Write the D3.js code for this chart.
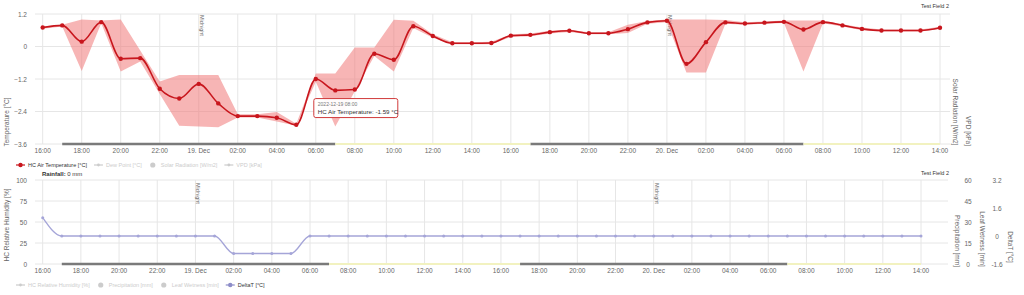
<!DOCTYPE html>
<html>
<head>
<meta charset="utf-8">
<script src="https://cdn.jsdelivr.net/npm/d3@7"></script>
<style>
  body { margin: 0; background: #fff; }
  svg { display: block; font-family: "Liberation Sans", Arial, sans-serif; }
  .grid line { stroke: #e6e6e6; stroke-width: 1; }
  .tick-label { fill: #666; font-size: 6.5px; }
  .axis-title { fill: #666; font-size: 6.5px; }
</style>
</head>
<body>
<div id="chart"></div>
<script>
var svgWidth = 1024;
var svgHeight = 295;

// hourly readings, 18 Dec 16:00 -> 20 Dec 14:00
var startTime = new Date(2022, 11, 18, 16);
var endTime = new Date(2022, 11, 20, 14);
var times = d3.timeHour.range(startTime, d3.timeHour.offset(endTime, 1));

var airTemp = [0.70, 0.78, 0.18, 0.90, -0.45, -0.43, -1.56, -1.92,
  -1.38, -2.10, -2.57, -2.57, -2.63, -2.89, -1.20, -1.62, -1.59, -0.27, -0.49, 0.75,
  0.39, 0.12, 0.12, 0.13, 0.40, 0.43, 0.53, 0.58, 0.49, 0.49, 0.64, 0.89,
  0.95, -0.64, 0.16, 0.89, 0.85, 0.88, 0.91, 0.63, 0.90, 0.78, 0.65, 0.59,
  0.59, 0.59, 0.69];
var airTempMin = [0.66, 0.74, -0.90, 0.86, -0.92, -0.55, -1.75, -2.93,
  -2.95, -2.98, -2.62, -2.62, -2.77, -2.93, -1.30, -2.95, -1.65, -0.35, -0.92, 0.68,
  0.32, 0.08, 0.08, 0.08, 0.35, 0.38, 0.48, 0.54, 0.45, 0.45, 0.50, 0.84,
  0.90, -0.96, -0.96, 0.84, 0.80, 0.84, 0.87, -0.92, 0.86, 0.74, 0.60, 0.55,
  0.55, 0.55, 0.65];
var airTempMax = [0.74, 0.80, 1.00, 0.96, 1.00, -0.15, -1.29, -1.05,
  -1.05, -1.05, -2.50, -2.50, -2.42, -2.85, -1.00, -1.00, -0.04, -0.04, 0.99, 0.95,
  0.45, 0.16, 0.16, 0.18, 0.45, 0.48, 0.58, 0.62, 0.53, 0.53, 0.80, 0.94,
  1.00, 1.00, 1.00, 0.98, 0.90, 0.92, 0.96, 0.96, 0.96, 0.82, 0.70, 0.63,
  0.63, 0.63, 0.73];
var deltaT = [1.05, 0, 0, 0, 0, 0, 0, 0,
  0, 0, -1.0, -1.0, -1.0, -1.0, 0, 0, 0, 0, 0, 0,
  0, 0, 0, 0, 0, 0, 0, 0, 0, 0, 0, 0,
  0, 0, 0, 0, 0, 0, 0, 0, 0, 0, 0, 0,
  0, 0, 0];

// night / day bands
var nights = [[new Date(2022, 11, 18, 17), new Date(2022, 11, 19, 7)],
  [new Date(2022, 11, 19, 17), new Date(2022, 11, 20, 7)]];
var days = [[new Date(2022, 11, 19, 7), new Date(2022, 11, 19, 17)],
  [new Date(2022, 11, 20, 7), new Date(2022, 11, 20, 14)]];
var midnights = [new Date(2022, 11, 19, 0), new Date(2022, 11, 20, 0)];

var tempTicks = [-3.6, -2.4, -1.2, 0, 1.2];
var humTicks = [0, 25, 50, 75, 100];
var precipTicks = [0, 15, 30, 45, 60];
var deltaTicks = [-1.6, 0, 1.6, 3.2];

var topLegend = ['HC Air Temperature [°C]', 'Dew Point [°C]', 'Solar Radiation [W/m2]', 'VPD [kPa]'];
var bottomLegend = ['HC Relative Humidity [%]', 'Precipitation [mm]', 'Leaf Wetness [min]', 'DeltaT [°C]'];

var red = '#c8161d';
var lavender = '#a5a5d8';

var svg = d3.select('#chart').append('svg')
  .attr('width', svgWidth)
  .attr('height', svgHeight);

var fmtTick = function(d) {
  return d.getHours() === 0 ? d3.timeFormat('%-d. %b')(d) : d3.timeFormat('%H:%M')(d);
};

// draws grid, time axis, night bars and midnight lines for one panel
function drawFrame(g, x, topY, bottomY, gridLeft, gridRight, yTicks, yScale, midY) {
  var grid = g.append('g').classed('grid', true);
  grid.selectAll('.h').data(yTicks).enter().append('line')
    .attr('x1', gridLeft).attr('x2', gridRight)
    .attr('y1', d => yScale(d)).attr('y2', d => yScale(d));
  grid.selectAll('.v').data(x.ticks(d3.timeHour.every(2))).enter().append('line')
    .attr('x1', d => x(d)).attr('x2', d => x(d))
    .attr('y1', topY).attr('y2', bottomY);

  g.selectAll('.tl').data(x.ticks(d3.timeHour.every(2))).enter().append('text')
    .attr('class', 'tick-label')
    .attr('x', d => x(d)).attr('y', bottomY + 9)
    .attr('text-anchor', 'middle')
    .text(fmtTick);

  g.selectAll('.night').data(nights).enter().append('line')
    .attr('x1', d => x(d[0])).attr('x2', d => x(d[1]))
    .attr('y1', bottomY).attr('y2', bottomY)
    .attr('stroke', '#7a7a7a').attr('stroke-width', 2.5);
  g.selectAll('.day').data(days).enter().append('line')
    .attr('x1', d => x(d[0])).attr('x2', d => x(d[1]))
    .attr('y1', bottomY).attr('y2', bottomY)
    .attr('stroke', '#f2f2c0').attr('stroke-width', 2);

  g.selectAll('.mid').data(midnights).enter().append('text')
    .attr('transform', d => `translate(${x(d) + 1},${midY}) rotate(90)`)
    .attr('font-size', '5.5px').attr('fill', '#666')
    .text('Midnight');
}

function vTitle(x, y, txt, angle) {
  svg.append('text').attr('class', 'axis-title')
    .attr('transform', `translate(${x},${y}) rotate(${angle})`)
    .attr('text-anchor', 'middle')
    .text(txt);
}

// legend row; circle-only symbols for the scatter/column-like series
function legend(y, items, activeIdx, color, circleIdx) {
  var lx = 16;
  items.forEach(function(name, i) {
    var active = i === activeIdx;
    var c = active ? color : '#cccccc';
    if (circleIdx.indexOf(i) >= 0) {
      svg.append('circle').attr('cx', lx + 4).attr('cy', y - 2).attr('r', 2.6).attr('fill', c);
    } else {
      svg.append('line').attr('x1', lx).attr('x2', lx + 9).attr('y1', y - 2).attr('y2', y - 2)
        .attr('stroke', c).attr('stroke-width', 1.2);
      svg.append('circle').attr('cx', lx + 4.5).attr('cy', y - 2).attr('r', active ? 2.2 : 1.4).attr('fill', c);
    }
    var t = svg.append('text').attr('x', lx + 12).attr('y', y)
      .attr('font-size', '5.5px')
      .attr('fill', active ? '#333' : '#cccccc')
      .text(name);
    lx += 12 + t.node().getComputedTextLength() + 7;
  });
}

// ---------- top panel: air temperature ----------
var xTop = d3.scaleTime().domain([startTime, endTime]).range([42.7, 940]);
var yTemp = d3.scaleLinear().domain([-3.6, 1.2]).range([144, 14]);
var topG = svg.append('g');

drawFrame(topG, xTop, 14, 144, 35, 950, tempTicks, yTemp, 15);

topG.selectAll('.yl').data(tempTicks).enter().append('text')
  .attr('class', 'tick-label')
  .attr('x', 27).attr('y', d => yTemp(d) + 2.5)
  .attr('text-anchor', 'end')
  .text(d => d === 0 ? '0' : d3.format('.1f')(d));

var tempData = times.map((t, i) => ({t: t, v: airTemp[i], lo: airTempMin[i], hi: airTempMax[i]}));

topG.append('path').datum(tempData)
  .attr('fill', '#f07878').attr('fill-opacity', 0.55)
  .attr('d', d3.area().x(d => xTop(d.t)).y0(d => yTemp(d.lo)).y1(d => yTemp(d.hi)));

topG.append('path').datum(tempData)
  .attr('fill', 'none').attr('stroke', red).attr('stroke-width', 1.6)
  .attr('d', d3.line().curve(d3.curveMonotoneX).x(d => xTop(d.t)).y(d => yTemp(d.v)));

topG.selectAll('.pt').data(tempData).enter().append('circle')
  .attr('cx', d => xTop(d.t)).attr('cy', d => yTemp(d.v)).attr('r', 2.2)
  .attr('fill', red);

// tooltip at 19 Dec 08:00
var tipPoint = tempData[16];
var tipX = xTop(tipPoint.t) - 41, tipY = yTemp(tipPoint.v) + 9;
topG.append('rect').attr('x', tipX).attr('y', tipY).attr('width', 84).attr('height', 19)
  .attr('rx', 2).attr('fill', '#fff').attr('fill-opacity', 0.95)
  .attr('stroke', '#d03a3a').attr('stroke-width', 1);
topG.append('text').attr('x', tipX + 4).attr('y', tipY + 7)
  .attr('font-size', '5px').attr('fill', '#777').text('2022-12-19 08:00');
topG.append('text').attr('x', tipX + 4).attr('y', tipY + 15)
  .attr('font-size', '6.2px').attr('fill', '#333')
  .text('HC Air Temperature:  ' + tipPoint.v.toFixed(2) + ' °C');

svg.append('text').attr('x', 949).attr('y', 8).attr('text-anchor', 'end')
  .attr('font-size', '5.5px').attr('fill', '#333').text('Test Field 2');

vTitle(9, 122, 'Temperature [°C]', -90);
vTitle(953, 112, 'Solar Radiation [W/m2]', 90);
vTitle(966, 131, 'VPD [kPa]', 90);

legend(167, topLegend, 0, red, [2]);

svg.append('text').attr('x', 42).attr('y', 176).attr('font-size', '6px').attr('fill', '#333')
  .html('<tspan font-weight="bold">Rainfall:</tspan> 0 mm');

// ---------- bottom panel: DeltaT ----------
var xBot = d3.scaleTime().domain([startTime, endTime]).range([42.7, 921]);
var yHum = d3.scaleLinear().domain([0, 100]).range([264, 180]);
var yPrecip = d3.scaleLinear().domain([0, 60]).range([264, 180]);
var yDelta = d3.scaleLinear().domain([-1.6, 3.2]).range([264, 180]);
var botG = svg.append('g');

drawFrame(botG, xBot, 180, 264, 35, 948, humTicks, yHum, 183);

botG.selectAll('.yl').data(humTicks).enter().append('text')
  .attr('class', 'tick-label')
  .attr('x', 27).attr('y', d => yHum(d) + 2.5)
  .attr('text-anchor', 'end').text(d => d);
botG.selectAll('.yp').data(precipTicks).enter().append('text')
  .attr('class', 'tick-label')
  .attr('x', 968).attr('y', d => yPrecip(d) + 2.5)
  .attr('text-anchor', 'middle').text(d => d);
botG.selectAll('.yd').data(deltaTicks).enter().append('text')
  .attr('class', 'tick-label')
  .attr('x', 997).attr('y', d => yDelta(d) + 2.5)
  .attr('text-anchor', 'middle').text(d => d);

var deltaData = times.map((t, i) => ({t: t, v: deltaT[i]}));
botG.append('path').datum(deltaData)
  .attr('fill', 'none').attr('stroke', lavender).attr('stroke-width', 1.3)
  .attr('d', d3.line().curve(d3.curveMonotoneX).x(d => xBot(d.t)).y(d => yDelta(d.v)));
botG.selectAll('.pt').data(deltaData).enter().append('circle')
  .attr('cx', d => xBot(d.t)).attr('cy', d => yDelta(d.v)).attr('r', 1.5)
  .attr('fill', lavender);

svg.append('text').attr('x', 949).attr('y', 175).attr('text-anchor', 'end')
  .attr('font-size', '5.5px').attr('fill', '#333').text('Test Field 2');

vTitle(9, 225, 'HC Relative Humidity [%]', -90);
vTitle(955, 241, 'Precipitation [mm]', 90);
vTitle(980, 239, 'Leaf Wetness [min]', 90);
vTitle(1008, 247, 'DeltaT [°C]', 90);

legend(287, bottomLegend, 3, '#8d8dc8', [1, 2]);
</script>
</body>
</html>
